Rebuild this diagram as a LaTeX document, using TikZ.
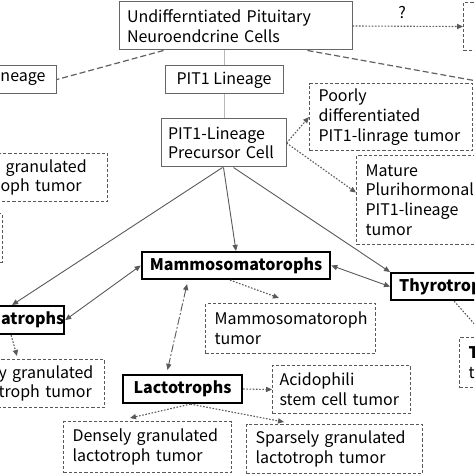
\documentclass[tikz,border=0pt]{standalone}
\usepackage{fontspec}
\newfontfamily\cellfont{Noto Sans CJK JP}
\newcommand\cellsize{\fontsize{8}{9.9}\selectfont\hyphenpenalty=10000\relax}
\usetikzlibrary{arrows.meta,calc}

\tikzset{
  cellbox/.style={draw=gray!80!black, line width=0.5pt, font=\cellfont\cellsize, align=left, inner xsep=4pt, inner ysep=0pt},
  typebox/.style={draw=black, line width=1.1pt, font=\cellfont\cellsize\bfseries, align=left, inner xsep=4pt, inner ysep=0pt},
  tumorbox/.style={draw=gray!70!black, line width=0.55pt, dash pattern=on 1.6pt off 1pt, font=\cellfont\cellsize, align=left, anchor=north west, inner xsep=4.5pt, inner ysep=0pt},
  lineage/.style={draw=gray!75!black, line width=0.6pt, dash pattern=on 3pt off 1.5pt},
  link/.style={draw=gray!55, line width=0.5pt},
  develop/.style={draw=gray!70!black, line width=0.45pt, -{Triangle[length=3pt,width=2.6pt]}},
  interconv/.style={draw=gray!70!black, line width=0.45pt, {Triangle[length=3pt,width=2.6pt]}-{Triangle[length=3pt,width=2.6pt]}},
  tumorarrow/.style={draw=gray!70!black, line width=0.55pt, dash pattern=on 0.8pt off 0.8pt, -{Triangle[length=3pt,width=2.6pt]}},
}

\begin{document}
\begin{tikzpicture}[x=0.5pt,y=-0.5pt]
  \useasboundingbox (0,0) rectangle (474,474);
  \clip (0,0) rectangle (474,474);

  % Lineages and precursor
  \node[cellbox, text width=108.5pt, minimum height=24pt] (undiff) at (235.5,26) {Undifferntiated Pituitary\\Neuroendcrine Cells};
  \node[cellbox, anchor=north west, text width=23.5pt, inner xsep=4.5pt, minimum height=14pt] (otherlin) at (-9,65) {neage};
  \node[cellbox, align=center, minimum width=59pt, minimum height=14pt] (pitlin) at (224,80) {PIT1 Lineage};
  \node[cellbox, text width=55.5pt, inner xsep=3.5pt, minimum height=24pt] (prec) at (223.5,143) {PIT1-Lineage\\Precursor Cell};
  \coordinate (farlin) at (560,96);

  % Differentiated cells
  \node[typebox, align=center, minimum width=94pt, minimum height=13.5pt] (mammo) at (236,265.5) {Mammosomatorophs};
  \node[typebox, anchor=north west, text width=70pt, minimum height=13.5pt] (thyro) at (390,272) {Thyrotrophs};
  \node[typebox, anchor=north west, text width=27pt, inner xsep=4.5pt, minimum height=14pt] (soma) at (-9,305) {atrophs};
  \node[typebox, align=center, minimum width=59.5pt, minimum height=14pt] (lacto) at (182.5,389) {Lactotrophs};

  % Tumors
  \node[tumorbox, text width=40pt, minimum height=24pt] (unknown) at (463,2) {};
  \node[tumorbox, text width=72.5pt, minimum height=33.5pt] (poorly) at (309,83) {Poorly\\differentiated\\PIT1-linrage tumor};
  \node[tumorbox, text width=61pt, minimum height=44.5pt] (mature) at (356,155) {Mature\\Plurihormonal\\PIT1-lineage\\tumor};
  \node[tumorbox, text width=49pt, minimum height=24pt] (uppertumor) at (-9,153) {\hspace*{2.5pt}granulated\\oph tumor};
  \node[tumorbox, anchor=north east, minimum width=40pt, minimum height=24.5pt] (edgetumor) at (3,213) {};
  \node[tumorbox, text width=76pt, minimum height=25pt] (mstumor) at (205,303) {Mammosomatoroph\\tumor};
  \node[tumorbox, text width=50pt, inner xsep=3pt, minimum height=24pt] (stumor) at (-8,359) {y granulated\\troph tumor};
  \node[tumorbox, text width=51pt, minimum height=25pt] (ttumor) at (459,337) {\textbf{Thyrotroph}\\tumor};
  \node[tumorbox, text width=62pt, inner xsep=3.5pt, minimum height=24pt] (acid) at (272,365) {Acidophili\\stem cell tumor};
  \node[tumorbox, text width=75pt, minimum height=25.5pt] (dlacto) at (63,421) {Densely granulated\\lactotroph tumor};
  \node[tumorbox, text width=79pt, minimum height=24.5pt] (slacto) at (246,424) {Sparsely granulated\\lactotroph tumor};

  % Lineage links
  \draw[link] (undiff.south -| pitlin.north) -- (pitlin.north);
  \draw[link] (pitlin.south) -- (prec.north -| pitlin.south);
  \draw[lineage] ($(undiff.south)+(-72,0)$) -- (otherlin.east);
  \draw[lineage] ($(undiff.south)+(72,0)$) -- (farlin);
  \draw[tumorarrow] (undiff.east) -- node[pos=0.45, above=0pt, font=\cellfont\cellsize] {?} (unknown.west);

  % Precursor to cells
  \draw[develop] ($(prec.south)+(-1,0)$) -- ($(soma.north)+(-16,0)$);
  \draw[develop] (prec.south) -- (mammo.north);
  \draw[develop] ($(prec.south)+(10,0)$) -- (thyro.north west);
  \draw[tumorarrow] (prec.east) -- (poorly.west);
  \draw[tumorarrow] (prec.east) -- ($(mature.west)+(0,-7.5)$);

  % Interconversion
  \draw[interconv] (mammo.west) -- (soma.east);
  \draw[interconv] (mammo.east) -- (thyro.west);
  \draw[interconv, dash pattern=on 4pt off 1pt on 1pt off 1pt] ($(mammo.south)+(-49,4)$) -- ($(lacto.north)+(-15,-4)$);

  % Cells to tumors
  \draw[tumorarrow] ($(mammo.south)+(-6,0)$) -- ($(mstumor.north west)+(74,-5)$);
  \draw[tumorarrow] ($(soma.south)+(-17,0)$) -- ($(stumor.north west)+(25,-3)$);
  \draw[tumorarrow] ($(thyro.south)+(-15,0)$) -- ($(ttumor.north west)+(27,0)$);
  \draw[tumorarrow] (lacto.east) -- (acid.west);
  \draw[tumorarrow] ($(lacto.south)+(8,0)$) -- ($(dlacto.north west)+(67,-3)$);
  \draw[tumorarrow] ($(lacto.south)+(8,0)$) -- ($(slacto.north west)+(38,-2)$);
\end{tikzpicture}
\end{document}
